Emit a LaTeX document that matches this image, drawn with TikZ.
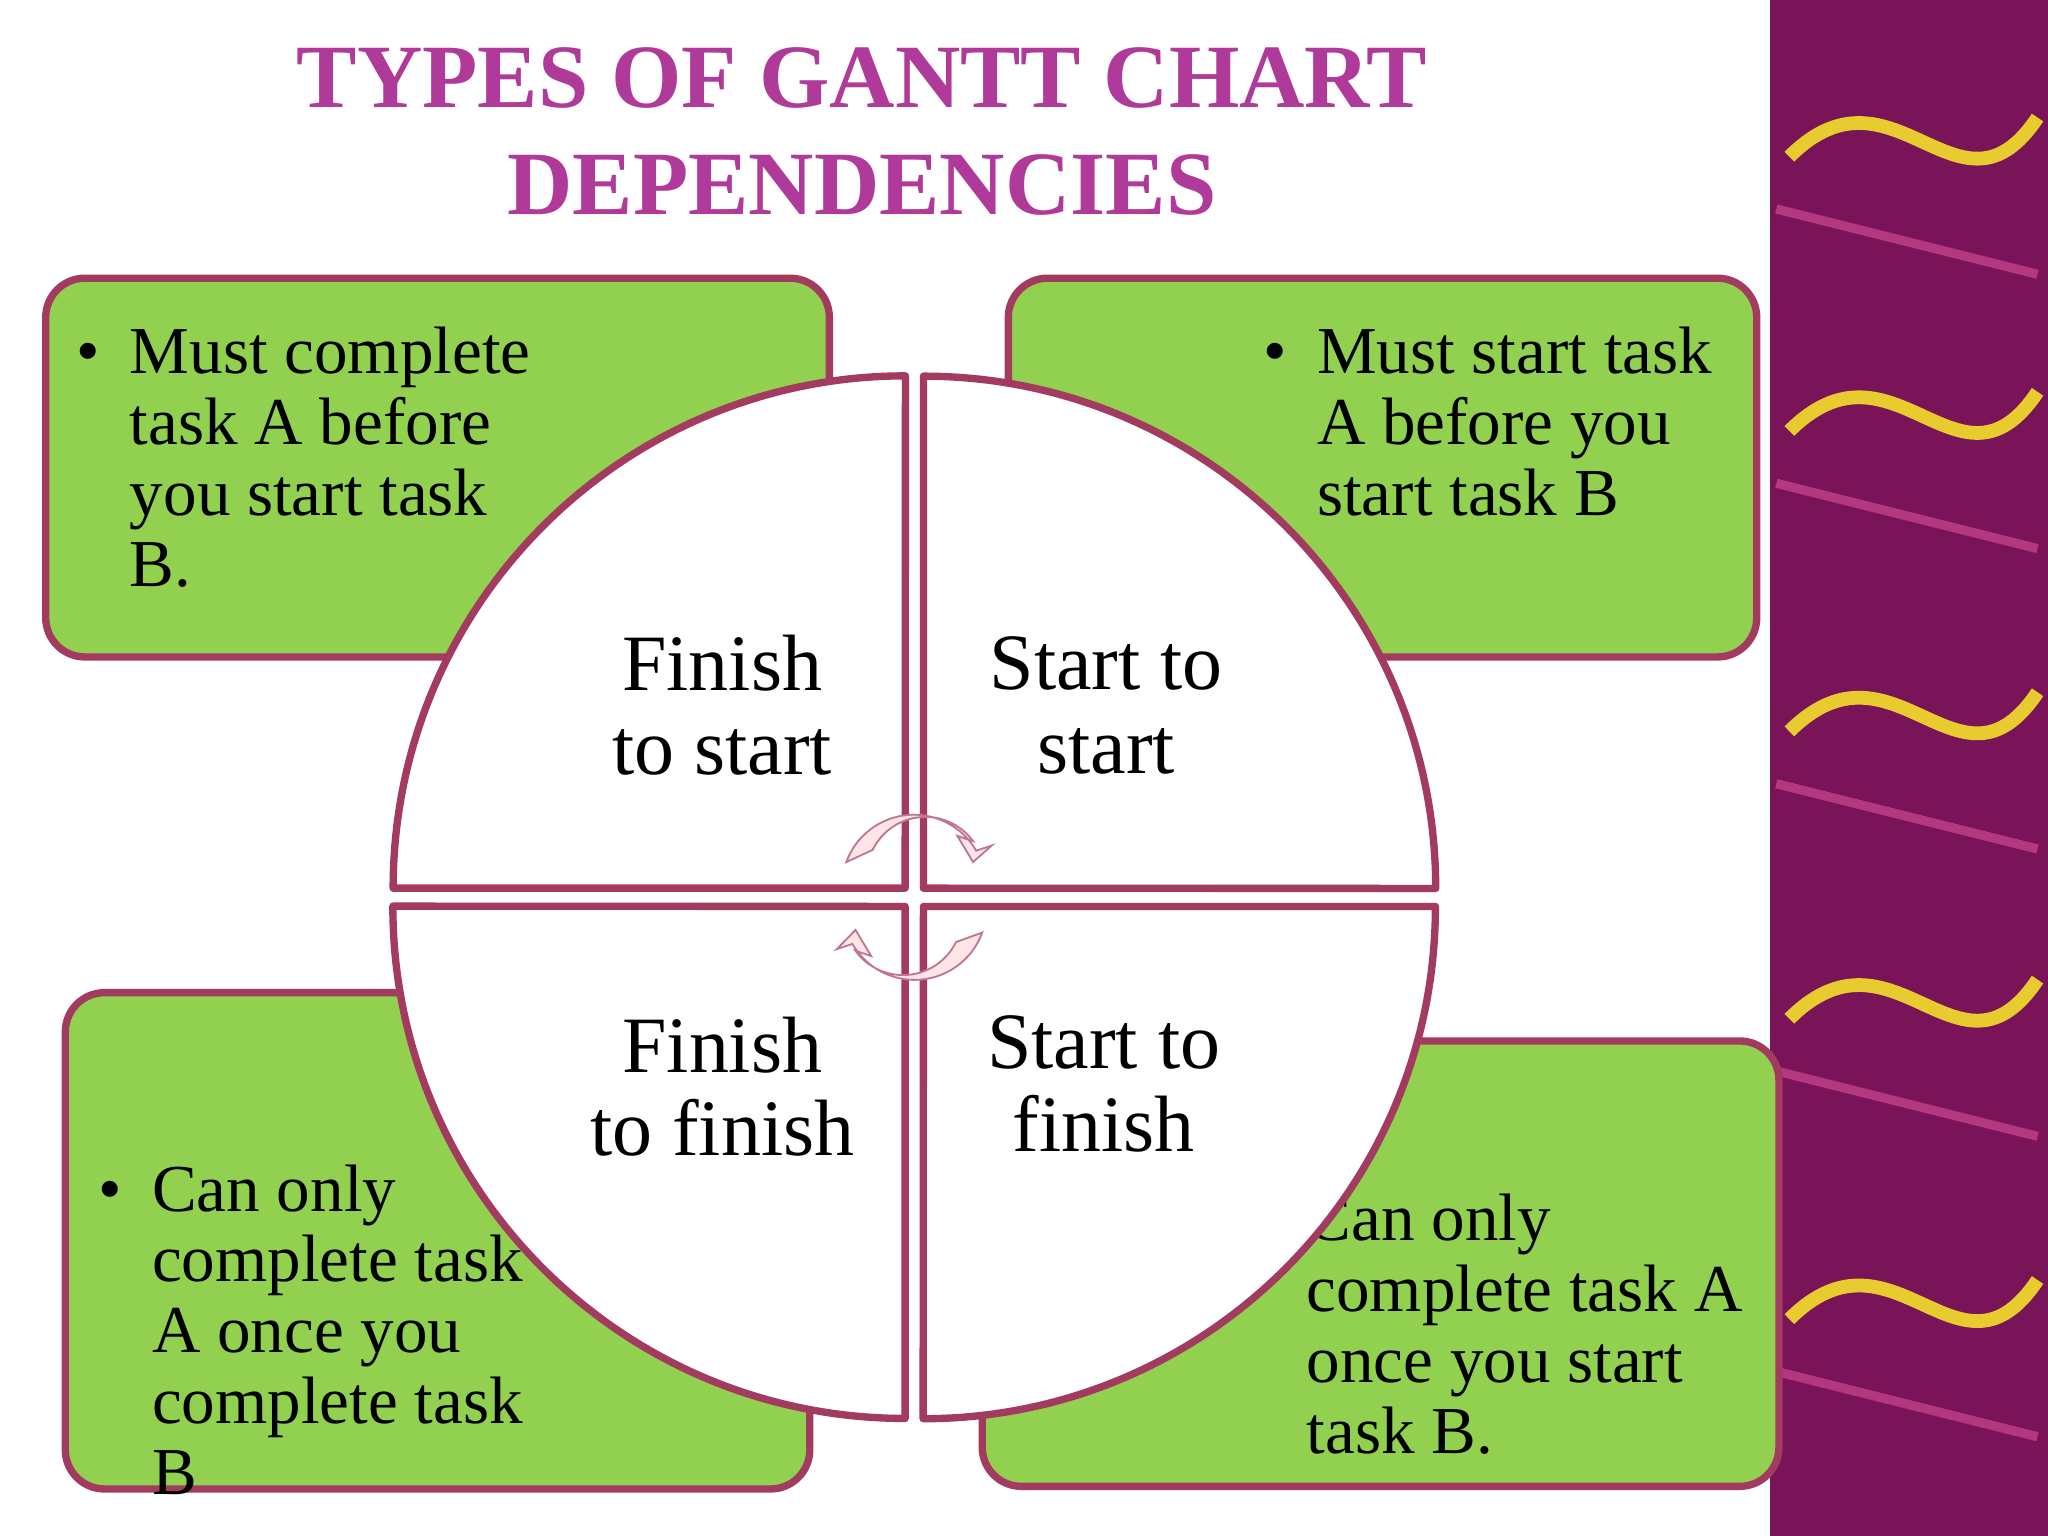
\documentclass[tikz,border=0pt]{standalone}
\usepackage{fontspec}
\setmainfont{Liberation Serif}
\usepackage{tikz}
\usetikzlibrary{arrows.meta}
\definecolor{rim}{HTML}{A33B60}
\definecolor{leaf}{HTML}{92D050}
\definecolor{plum}{HTML}{B03A9A}
\definecolor{tinsel}{HTML}{7A1458}
\tikzset{
  greenbox/.style={draw=rim, line width=1.6pt, fill=leaf, rounded corners=0.3cm},
  quad/.style={draw=rim, line width=1.6pt, fill=white, line join=round},
  boxtext/.style={anchor=north west, align=left, font=\fontsize{14.6}{15.4}\selectfont},
  quadtext/.style={align=center, font=\fontsize{17.4}{18.2}\selectfont},
  spin/.style={draw=rim!70, fill=pink!40, line width=0.4pt}
}
\begin{document}
\begin{tikzpicture}[x=0.01cm, y=-0.01cm]
\useasboundingbox (0,0) rectangle (1568,1176);
% photo strip
\fill[tinsel] (1355,0) rectangle (1568,1176);
\foreach \yy in {120,330,560,780,1010} {
  \draw[magenta!70!black, line width=2pt] (1360,\yy+40) -- (1560,\yy+90);
  \draw[yellow!60!brown, line width=3pt] (1370,\yy) .. controls (1450,\yy-80) and (1500,\yy+60) .. (1560,\yy-30);
}
% title
\node[font=\fontsize{19.7}{23.3}\selectfont\bfseries, text=plum, align=center] (title) at (660,101) {TYPES OF GANTT CHART\\DEPENDENCIES};
% green boxes
\draw[greenbox] (35,213) rectangle (635,503);
\draw[greenbox] (772,213) rectangle (1345,503);
\draw[greenbox] (50,760) rectangle (620,1140);
\draw[greenbox] (752,797) rectangle (1362,1138);
\node[boxtext] (fs) at (46,236) {•\hspace{0.45em}\begin{tabular}[t]{@{}l@{}}Must complete\\task A before\\you start task\\B.\end{tabular}};
\node[boxtext] (ss) at (955,236) {•\hspace{0.45em}\begin{tabular}[t]{@{}l@{}}Must start task\\A before you\\start task B\end{tabular}};
\node[boxtext] (ff) at (63,877) {•\hspace{0.45em}\begin{tabular}[t]{@{}l@{}}Can only\\complete task\\A once you\\complete task\\B\end{tabular}};
\node[boxtext] (sf) at (988,902) {Can only\\complete task A\\once you start\\task B.};
% quadrants
\draw[quad] (693,680) -- ++(-392,0) arc (180:90:3.92cm) -- cycle;
\draw[quad] (707,680) -- ++(0,-392) arc (90:0:3.92cm) -- cycle;
\draw[quad] (693,694) -- ++(0,392) arc (270:180:3.92cm) -- cycle;
\draw[quad] (707,694) -- ++(392,0) arc (0:-90:3.92cm) -- cycle;
\node[quadtext] (q1) at (553,540) {Finish\\to start};
\node[quadtext] (q2) at (847,540) {Start to\\start};
\node[quadtext] (q3) at (553,832) {Finish\\to finish};
\node[quadtext] (q4) at (845,830) {Start to\\finish};
% circular arrows
\draw[spin] (648,660) arc (160:30:0.55cm) -- ++(12,-4) -- (745,660) -- (733,640) -- ++(12,4) arc (36:154:0.45cm) -- cycle;
\draw[spin] (752,714) arc (-20:-150:0.55cm) -- ++(-12,4) -- (655,712) -- (667,732) -- ++(-12,-4) arc (-144:-26:0.45cm) -- cycle;
\end{tikzpicture}
\end{document}
